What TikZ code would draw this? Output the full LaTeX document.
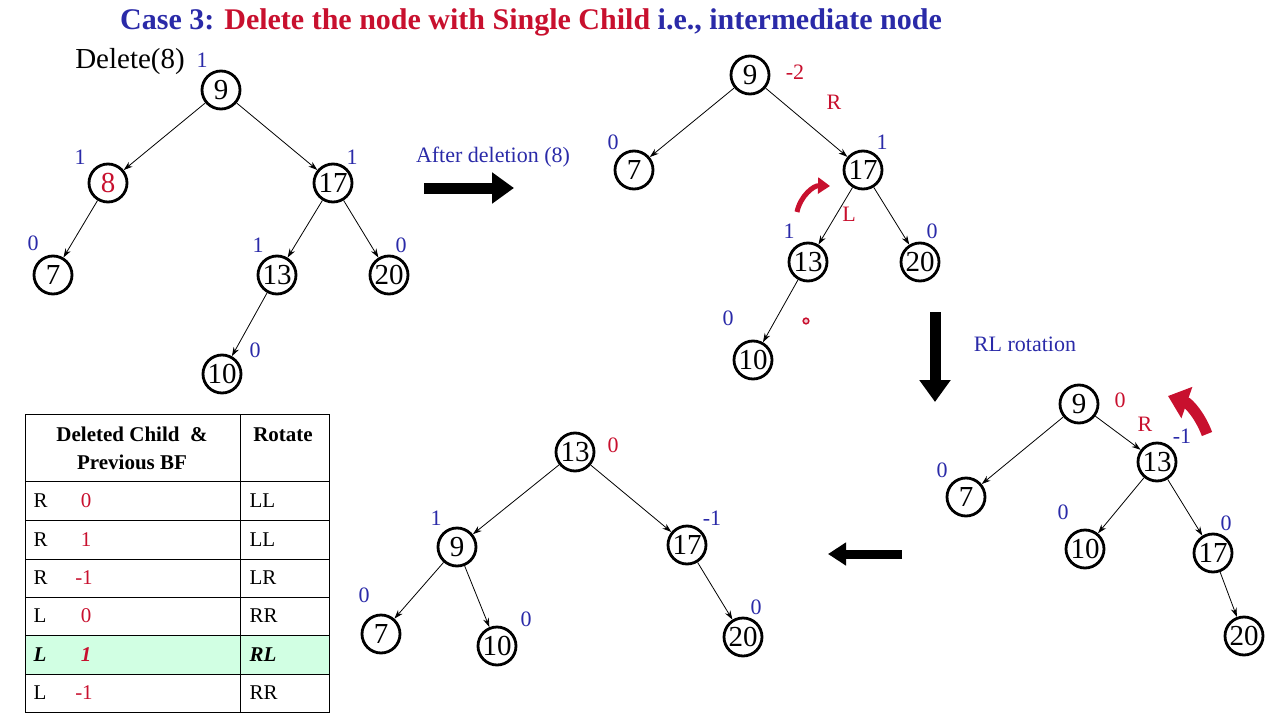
\documentclass[tikz,border=0pt]{standalone}
\usepackage{fontspec}
\setmainfont{Liberation Serif}
\usetikzlibrary{arrows.meta}
\definecolor{bl}{HTML}{2A2AA8}
\definecolor{rd}{HTML}{C8102E}
\begin{document}
\begin{tikzpicture}[x=1pt,y=-1pt,
 nd/.style={circle,draw,line width=2.8pt,minimum size=38pt,inner sep=0pt,font=\fontsize{29}{29}\selectfont},
 ed/.style={-{Stealth[length=9pt,width=6pt]},line width=0.8pt},
 bb/.style={text=bl,font=\fontsize{22}{22}\selectfont},
 rr/.style={text=rd,font=\fontsize{22}{22}\selectfont},
 big/.style={-{Triangle[length=22pt,width=30pt]},line width=11pt},
 curv/.style={-{Triangle[length=12pt,width=16pt]},line width=5pt,rd},
 tx/.style={font=\fontsize{21}{21}\selectfont,anchor=west}]
\useasboundingbox (0,0) rectangle (1280,720);
\node[font=\bfseries\fontsize{30}{30}\selectfont] (title) at (531,22) {\textcolor{bl}{Case 3:} \textcolor{rd}{Delete the node with Single Child} \textcolor{bl}{i.e., intermediate node}};
% Tree 1
\node[font=\fontsize{29}{29}\selectfont] (del) at (130,62) {Delete(8)};
\node[nd] (a9) at (221,90) {9};
\node[nd,text=rd] (a8) at (108,183) {8};
\node[nd] (a17) at (333,183) {17};
\node[nd] (a7) at (53,275) {7};
\node[nd] (a13) at (277,275) {13};
\node[nd] (a20) at (389,275) {20};
\node[nd] (a10) at (222,374) {10};
\draw[ed] (a9)--(a8); \draw[ed] (a9)--(a17); \draw[ed] (a8)--(a7);
\draw[ed] (a17)--(a13); \draw[ed] (a17)--(a20); \draw[ed] (a13)--(a10);
\node[bb] (l1) at (202,60) {1}; \node[bb] (l2) at (80,157) {1}; \node[bb] (l3) at (352,157) {1};
\node[bb] (l4) at (33,243) {0}; \node[bb] (l5) at (258,245) {1}; \node[bb] (l6) at (401,245) {0};
\node[bb] (l7) at (255,350) {0};
\coordinate (ar1s) at (424,188); \coordinate (ar1e) at (514,188);
\draw[big] (ar1s)--(ar1e);
\node[bb] (after) at (493,157) {After deletion (8)};
% Tree 2
\node[nd] (b9) at (750,75) {9};
\node[nd] (b7) at (634,170) {7};
\node[nd] (b17) at (863,170) {17};
\node[nd] (b13) at (808,262) {13};
\node[nd] (b20) at (920,262) {20};
\node[nd] (b10) at (753,360) {10};
\draw[ed] (b9)--(b7); \draw[ed] (b9)--(b17); \draw[ed] (b17)--(b13);
\draw[ed] (b17)--(b20); \draw[ed] (b13)--(b10);
\node[rr] (m1) at (795,72) {-2}; \node[rr] (m2) at (834,102) {R};
\node[bb] (m3) at (613,142) {0}; \node[bb] (m4) at (882,142) {1};
\node[rr] (m5) at (849,214) {L}; \node[bb] (m6) at (789,231) {1};
\node[bb] (m7) at (932,231) {0}; \node[bb] (m8) at (728,318) {0};
\coordinate (c1s) at (797,212); \coordinate (c1e) at (830,186);
\draw[curv] (c1s) to[bend left=40] (c1e);
\node[circle,draw=rd,fill=rd!20,line width=1.5pt,inner sep=2pt] (dot) at (806,321) {};
\coordinate (ar2s) at (935,312); \coordinate (ar2e) at (935,402);
\draw[big] (ar2s)--(ar2e);
\node[bb] (rl) at (1025,344) {RL rotation};
% Tree 3
\node[nd] (c9) at (1079,404) {9};
\node[nd] (c7) at (966,497) {7};
\node[nd] (c13) at (1157,462) {13};
\node[nd] (c10) at (1085,549) {10};
\node[nd] (c17) at (1213,553) {17};
\node[nd] (c20) at (1244,636) {20};
\draw[ed] (c9)--(c7); \draw[ed] (c9)--(c13); \draw[ed] (c13)--(c10);
\draw[ed] (c13)--(c17); \draw[ed] (c17)--(c20);
\node[rr] (n1) at (1120,400) {0}; \node[rr] (n2) at (1145,424) {R};
\node[bb] (n3) at (1182,436) {-1}; \node[bb] (n4) at (942,470) {0};
\node[bb] (n5) at (1063,512) {0}; \node[bb] (n6) at (1226,523) {0};
\coordinate (c2s) at (1207,434); \coordinate (c2e) at (1168,396);
\draw[-{Triangle[length=20pt,width=32pt]},line width=11pt,rd] (c2s) to[bend right=25] (c2e);
\coordinate (ar3s) at (902,554); \coordinate (ar3e) at (828,554);
\draw[-{Triangle[length=18pt,width=22pt]},line width=9pt] (ar3s)--(ar3e);
% Tree 4
\node[nd] (d13) at (575,452) {13};
\node[nd] (d9) at (457,547) {9};
\node[nd] (d17) at (687,545) {17};
\node[nd] (d7) at (381,634) {7};
\node[nd] (d10) at (497,646) {10};
\node[nd] (d20) at (743,637) {20};
\draw[ed] (d13)--(d9); \draw[ed] (d13)--(d17); \draw[ed] (d9)--(d7);
\draw[ed] (d9)--(d10); \draw[ed] (d17)--(d20);
\node[rr] (o1) at (613,445) {0}; \node[bb] (o2) at (436,518) {1};
\node[bb] (o3) at (712,518) {-1}; \node[bb] (o4) at (364,595) {0};
\node[bb] (o5) at (526,619) {0}; \node[bb] (o6) at (756,607) {0};
% Table
\fill[green!60!cyan!18] (25,635) rectangle (329,674);
\draw[line width=0.8pt] (25,414) rectangle (329,712);
\draw[line width=0.8pt] (240,414)--(240,712);
\foreach \y in {481,520,559,597,635,674} \draw[line width=0.8pt] (25,\y)--(329,\y);
\node[font=\bfseries\fontsize{21}{28}\selectfont,align=center] (h1) at (132,448) {Deleted Child \ \&\\Previous BF};
\node[font=\bfseries\fontsize{21}{21}\selectfont] (h2) at (283,435) {Rotate};
\node[tx] (r1a) at (30,501) {R}; \node[rr,font=\fontsize{21}{21}\selectfont] (r1b) at (86,501) {0}; \node[tx] (r1c) at (246,501) {LL};
\node[tx] (r2a) at (30,540) {R}; \node[rr,font=\fontsize{21}{21}\selectfont] (r2b) at (86,540) {1}; \node[tx] (r2c) at (246,540) {LL};
\node[tx] (r3a) at (30,578) {R}; \node[rr,font=\fontsize{21}{21}\selectfont] (r3b) at (84,578) {-1}; \node[tx] (r3c) at (246,578) {LR};
\node[tx] (r4a) at (30,616) {L}; \node[rr,font=\fontsize{21}{21}\selectfont] (r4b) at (86,616) {0}; \node[tx] (r4c) at (246,616) {RR};
\node[tx,font=\bfseries\itshape\fontsize{21}{21}\selectfont] (r5a) at (30,655) {L}; \node[rr,font=\bfseries\itshape\fontsize{21}{21}\selectfont] (r5b) at (86,655) {1}; \node[tx,font=\bfseries\itshape\fontsize{21}{21}\selectfont] (r5c) at (246,655) {RL};
\node[tx] (r6a) at (30,693) {L}; \node[rr,font=\fontsize{21}{21}\selectfont] (r6b) at (84,693) {-1}; \node[tx] (r6c) at (246,693) {RR};
\end{tikzpicture}
\end{document}
